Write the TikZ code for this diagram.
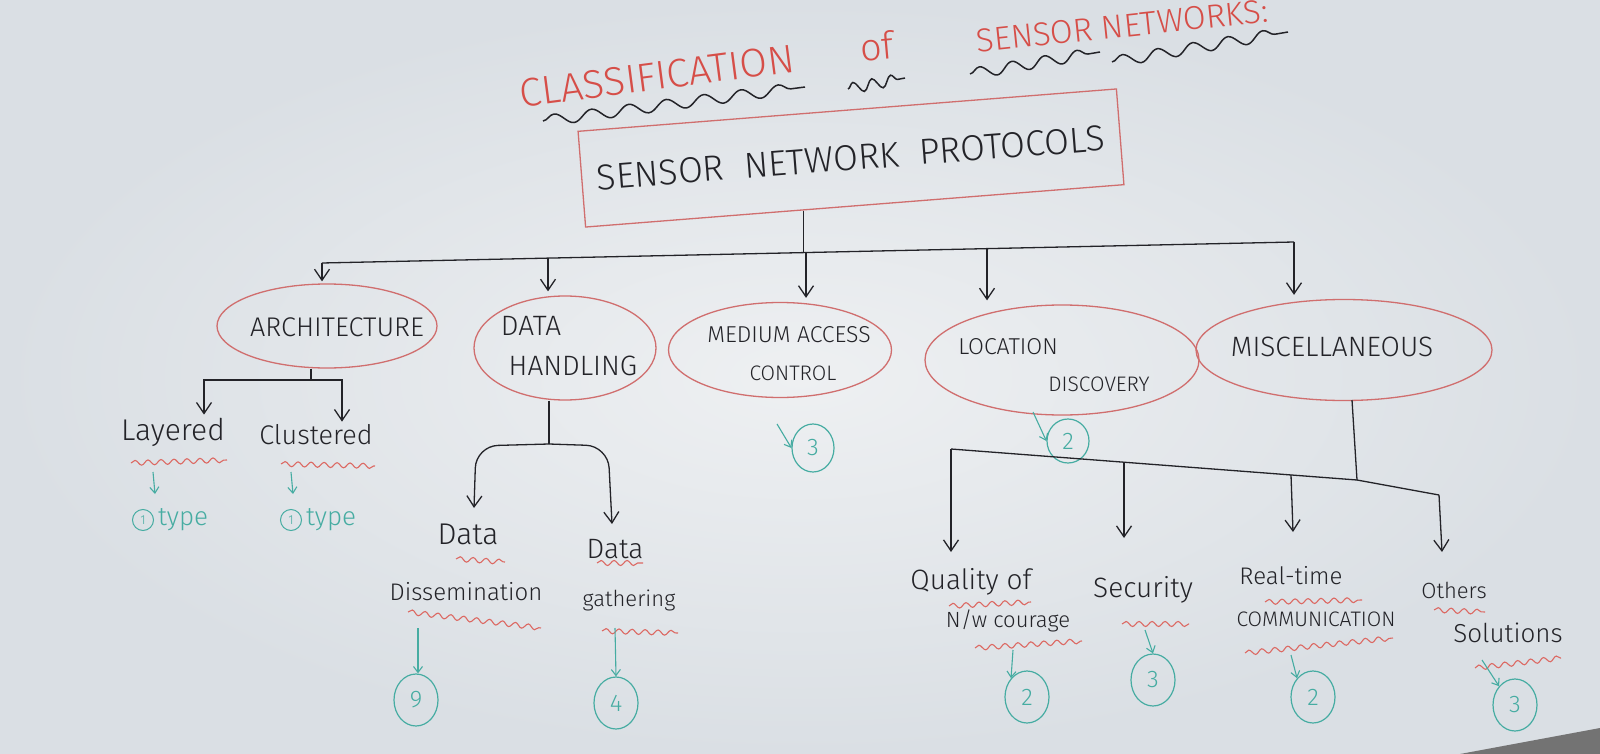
\documentclass[tikz,border=0pt]{standalone}
\usepackage{fontspec}
\setmainfont{Fira Sans Light}
\usetikzlibrary{shapes.geometric,arrows.meta,decorations.pathmorphing,calc}
\definecolor{board}{RGB}{238,240,242}
\definecolor{boardedge}{RGB}{218,223,228}
\definecolor{mred}{RGB}{214,78,72}
\definecolor{eline}{RGB}{208,110,110}
\definecolor{ink}{RGB}{35,35,40}
\definecolor{tealc}{RGB}{70,172,162}
\tikzset{
  bubble/.style={draw=eline, line width=1.3pt, ellipse, inner sep=0pt},
  blbl/.style={text=ink, inner sep=1pt},
  lbl/.style={text=ink, inner sep=1pt},
  ttl/.style={text=mred, inner sep=0pt},
  wavr/.style={draw=mred!85, line width=1.1pt, decorate, decoration={snake, amplitude=2.5pt, segment length=13pt}},
  wavk/.style={draw=ink, line width=1.5pt, decorate, decoration={snake, amplitude=5.5pt, segment length=#1}},
  link/.style={draw=ink, line width=1.3pt},
  arr/.style={link, -{Straight Barb[length=11pt,width=15pt]}},
  tarr/.style={draw=tealc, line width=1.1pt, -{Straight Barb[length=6pt,width=9pt]}},
  num/.style={draw=tealc, line width=1.2pt, ellipse, minimum width=44pt, minimum height=52pt,
    inner sep=0pt, text=tealc, font=\fontsize{24}{26}\selectfont},
  smallnum/.style={draw=tealc, line width=1pt, circle, minimum size=21pt, inner sep=0pt,
    text=tealc, font=\fontsize{13}{14}\selectfont},
  tlbl/.style={text=tealc, inner sep=1pt, font=\fontsize{26}{28}\selectfont},
}
\newcommand{\fs}[1]{\fontsize{#1}{#1}\selectfont}
\begin{document}
\begin{tikzpicture}[x=1pt,y=-1pt]
\useasboundingbox (0,0) rectangle (1600,754);
\shade[inner color=board, outer color=boardedge] (0,0) rectangle (1600,754);
\fill[black!55] (1460,754) -- (1600,728) -- (1600,754) -- cycle;

% title
\node[ttl, rotate=7.4, font=\fs{40}] (t1) at (657,76) {CLASSIFICATION};
\node[ttl, rotate=5, font=\fs{38}] (t2) at (877,46) {of};
\node[ttl, rotate=6, font=\fs{33}] (t3) at (1122,26) {SENSOR NETWORKS:};
\draw[wavk=37.7pt] (543,121) -- (805,87);
\draw[wavk=19.2pt] (848,89) -- (905,78);
\draw[wavk=33pt] (970,74) -- (1100,52);
\draw[wavk=35.7pt] (1112,62) -- (1288,32);

% root
\node[draw=eline, line width=1.3pt, rotate=4.5, minimum width=540pt, minimum height=96pt,
  text=ink, font=\fs{36}] (snp) at (851,158) {SENSOR\ \ NETWORK\ \ PROTOCOLS};
\path (snp.south west) -- (snp.south east) coordinate[pos=0.405] (stem);

% level 1
\node[bubble, minimum width=220pt, minimum height=84pt] (arch) at (327,326) {};
\node[blbl, font=\fs{27}] (archl) at (337,327) {ARCHITECTURE};
\node[bubble, minimum width=182pt, minimum height=104pt] (dh) at (565,348) {};
\node[blbl, font=\fs{28}] (dhl1) at (531,326) {DATA};
\node[blbl, font=\fs{28}] (dhl2) at (573,366) {HANDLING};
\node[bubble, minimum width=223pt, minimum height=95pt] (mac) at (780,350) {};
\node[blbl, font=\fs{23}] (macl1) at (789,335) {MEDIUM ACCESS};
\node[blbl, font=\fs{21}] (macl2) at (793,373) {CONTROL};
\node[bubble, minimum width=274pt, minimum height=110pt] (loc) at (1062,360) {};
\node[blbl, font=\fs{23}] (locl1) at (1008,347) {LOCATION};
\node[blbl, font=\fs{21}] (locl2) at (1099,384) {DISCOVERY};
\node[bubble, minimum width=296pt, minimum height=101pt] (misc) at (1344,350) {};
\node[blbl, font=\fs{28}] (miscl) at (1332,347) {MISCELLANEOUS};

\coordinate (bA) at (322,263);
\coordinate (bE) at (1294,242);
\coordinate (bB) at (548,258);
\coordinate (bC) at (806,252);
\coordinate (bD) at (987,249);
\draw[link] (bA) -- (bE);
\draw[link] (stem) -- (stem |- bC);
\draw[arr] (bA) -- ($(bA |- arch.north)+(0,-2)$);
\draw[arr] (bB) -- ($(bB |- dh.north)+(0,-4)$);
\draw[arr] (bC) -- ($(bC |- mac.north)+(0,-4)$);
\draw[arr] (bD) -- ($(bD |- loc.north)+(0,-4)$);
\draw[arr] (bE) -- ($(bE |- misc.north)+(0,-4)$);

% architecture
\node[lbl, font=\fs{30}] (lay) at (173,432) {Layered};
\node[lbl, font=\fs{27}] (clu) at (316,435) {Clustered};
\coordinate (ac) at (311,380);
\coordinate (acl) at (204,380);
\coordinate (acr) at (342,380);
\draw[link] (ac |- arch.south) -- (ac);
\draw[arr] (ac) -- (acl) -- ($(acl |- lay.north)+(0,-2)$);
\draw[arr] (ac) -- (acr) -- ($(acr |- clu.north)+(0,-2)$);
\draw[wavr] (131,463) -- (227,460);
\draw[wavr] (281,464) -- (375,466);
\node[smallnum] (n1) at (143,520) {1};
\node[tlbl, anchor=west] (ty1) at ($(n1.east)+(3,0)$) {type};
\node[smallnum] (n2) at (291,520) {1};
\node[tlbl, anchor=west] (ty2) at ($(n2.east)+(3,0)$) {type};
\coordinate (lt) at (153,472);
\coordinate (lte) at (155,494);
\coordinate (ct) at (291,472);
\coordinate (cte) at (293,494);
\draw[tarr] (lt) -- (lte);
\draw[tarr] (ct) -- (cte);

% data handling
\node[lbl, font=\fs{30}] (dd1) at (468,534) {Data};
\node[lbl, font=\fs{24}] (dd2) at (466,592) {Dissemination};
\node[lbl, font=\fs{28}] (dg1) at (615,549) {Data};
\node[lbl, font=\fs{22}] (dg2) at (629,600) {gathering};
\coordinate (dhj) at (549,444);
\draw[link] (dhj |- dh.south) -- (dhj);
\draw[arr, rounded corners=22pt] (dhj) -- (476,446) -- (474,508);
\draw[arr, rounded corners=22pt] (dhj) -- (608,446) -- (612,524);
\draw[wavr] (456,559) -- (505,562);
\draw[wavr] (408,612) -- (541,628);
\draw[wavr] (597,563) -- (643,563);
\draw[wavr] (602,631) -- (678,633);
\node[num] (n9) at (416,700) {9};
\node[num] (n4) at (616,703) {4};
\coordinate (dsa) at (418,628);
\coordinate (dga) at (615,628);
\draw[tarr] (dsa) -- (n9.north -| dsa);
\draw[tarr] (dga) -- (n4.north);

% MAC and location
\node[num, minimum width=42pt, minimum height=48pt] (n3m) at (813,448) {3};
\coordinate (ma) at (777,424);
\draw[tarr] (ma) -- (n3m.west);
\node[num, minimum width=42pt, minimum height=44pt] (n2l) at (1068,441) {2};
\coordinate (la) at (1033,412);
\draw[tarr] (la) -- (n2l.west);

% miscellaneous
\coordinate (ms) at (1352,400);
\coordinate (mj) at (1357,480);
\coordinate (q) at (951,449);
\coordinate (sc) at (1124,462);
\coordinate (rt) at (1291,475);
\coordinate (ot) at (1439,495);
\draw[link] (ms) -- (mj);
\draw[link] (q) -- (mj) -- (ot);
\node[lbl, font=\fs{28}] (qos1) at (971,582) {Quality of};
\node[lbl, font=\fs{22}] (qos2) at (1008,621) {N/w courage};
\node[lbl, font=\fs{28}] (sec) at (1143,590) {Security};
\node[lbl, font=\fs{24}] (rt1) at (1291,576) {Real-time};
\node[lbl, font=\fs{21}] (rt2) at (1316,619) {COMMUNICATION};
\node[lbl, font=\fs{22}] (ot1) at (1454,590) {Others};
\node[lbl, font=\fs{26}] (ot2) at (1508,633) {Solutions};
\draw[arr] (q) -- (951,552);
\draw[arr] (sc) -- (1124,538);
\draw[arr] (rt) -- (1293,532);
\draw[arr] (ot) -- (1442,552);
\draw[wavr] (949,606) -- (1031,602);
\draw[wavr] (975,648) -- (1082,641);
\draw[wavr] (1122,624) -- (1189,624);
\draw[wavr] (1265,602) -- (1362,600);
\draw[wavr] (1245,653) -- (1393,638);
\draw[wavr] (1434,610) -- (1485,612);
\draw[wavr] (1475,668) -- (1561,658);
\node[num] (nq) at (1027,697) {2};
\node[num] (ns) at (1153,680) {3};
\node[num] (nr) at (1313,697) {2};
\node[num] (no) at (1515,705) {3};
\coordinate (qa) at (1013,650);
\coordinate (sa) at (1145,630);
\coordinate (ra) at (1291,655);
\coordinate (oa) at (1482,660);
\draw[tarr] (qa) -- (nq.north west);
\draw[tarr] (sa) -- (ns.north);
\draw[tarr] (ra) -- (nr.north west);
\draw[tarr] (oa) -- (no.north west);
\end{tikzpicture}
\end{document}
